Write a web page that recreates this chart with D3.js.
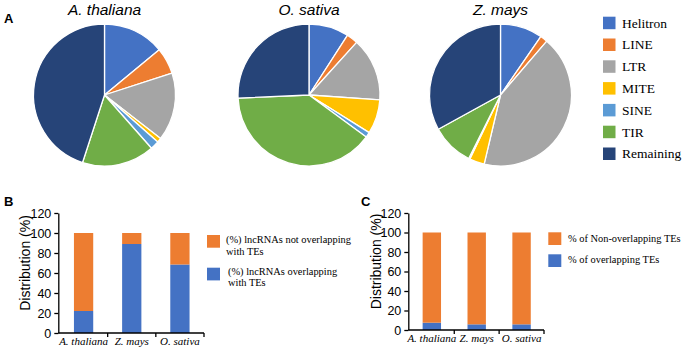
<!DOCTYPE html>
<html><head><meta charset="utf-8">
<script src="https://cdn.jsdelivr.net/npm/d3@7"></script>
<style>
html,body{margin:0;padding:0;background:#fff;}
svg{display:block;}
</style></head>
<body>
<svg id="chart" width="685" height="352"></svg>
<script>
// ---------- DATA ----------
const teTypes = ["Helitron","LINE","LTR","MITE","SINE","TIR","Remaining"];
const teColors = ["#4472C4","#ED7D31","#A5A5A5","#FFC000","#5B9BD5","#70AD47","#264478"];
const pieSpecies = ["A. thaliana","O. sativa","Z. mays"];
const athalianaTE = [14, 6, 15.5, 1, 2, 16.5, 45];
const osativaTE   = [9.1, 2.6, 14.4, 7.8, 1.2, 39.2, 25.7];
const zmaysTE     = [9.6, 1.7, 42.4, 3.4, 0.3, 9.6, 33];

const barSpecies = ["A. thaliana","Z. mays","O. sativa"];
const yTicks = [0,20,40,60,80,100,120];
// Panel B
const lncOverlap    = [22, 89, 68.5];
const lncNotOverlap = [78, 11, 31.5];
const bLegend = [["(%) lncRNAs not overlapping","with TEs"],["(%) lncRNAs overlapping","with TEs"]];
// Panel C
const teOverlap    = [7.5, 5.8, 5.8];
const teNotOverlap = [92.5, 94.2, 94.2];
const cLegend = ["% of Non-overlapping TEs","% of overlapping TEs"];

const blue = "#4472C4", orange = "#ED7D31";

const svg = d3.select("#chart");
const sans = "'Liberation Sans', Arial, sans-serif";
const serif = "'Liberation Serif', 'Times New Roman', serif";

// panel labels
[["A",4,23],["B",4,206],["C",361,206]].forEach(([t,x,y])=>{
  svg.append("text").attr("x",x).attr("y",y).text(t)
    .attr("font-family",sans).attr("font-weight","bold").attr("font-size",13);
});

// ---------- PIES ----------
const pieData = [athalianaTE, osativaTE, zmaysTE];
const pieCenters = [[104.5,95],[309,95],[500.5,95]];
const R = 71;
const pie = d3.pie().sort(null).value(d=>d);
const arc = d3.arc().innerRadius(0).outerRadius(R);
pieData.forEach((vals,i)=>{
  const g = svg.append("g").attr("transform",`translate(${pieCenters[i][0]},${pieCenters[i][1]})`);
  g.selectAll("path").data(pie(vals)).join("path")
    .attr("d",arc).attr("fill",(d,j)=>teColors[j])
    .attr("stroke","#fff").attr("stroke-width",1.3).attr("stroke-linejoin","round");
  svg.append("text").attr("x",pieCenters[i][0]).attr("y",15)
    .attr("text-anchor","middle").attr("font-family",sans).attr("font-style","italic")
    .attr("font-size",15.5).text(pieSpecies[i]);
});
// pie legend
const lg = svg.append("g");
teTypes.forEach((t,i)=>{
  const cy = 23 + i*21.8;
  lg.append("rect").attr("x",603).attr("y",cy-6.3).attr("width",12.5).attr("height",12.5).attr("fill",teColors[i]);
  lg.append("text").attr("x",622).attr("y",cy+4.5).attr("font-family",serif).attr("font-size",13.5).text(t);
});

// ---------- STACKED BARS ----------
function barPanel(opt){
  const y = d3.scaleLinear().domain([0,120]).range([opt.y0, opt.y1]);
  const x = d3.scaleBand().domain(barSpecies).range([opt.xb0, opt.xb1]).padding(0);
  const g = svg.append("g");
  const rows = barSpecies.map((s,i)=>({sp:s, over:opt.over[i], notover:opt.notover[i]}));
  const stack = d3.stack().keys(["over","notover"])(rows);
  const cols = {over:blue, notover:orange};
  const bw = x.bandwidth()*opt.bwFrac;
  stack.forEach(layer=>{
    g.selectAll(null).data(layer).join("rect")
      .attr("x",d=>x(d.data.sp)+x.bandwidth()/2-bw/2)
      .attr("width",bw)
      .attr("y",d=>y(d[1]))
      .attr("height",d=>y(d[0])-y(d[1]))
      .attr("fill",cols[layer.key]);
  });
  // y axis
  const ya = g.append("g").attr("transform",`translate(${opt.ax},0)`)
    .call(d3.axisLeft(y).tickValues(yTicks).tickSize(4).tickSizeOuter(0).tickPadding(3));
  ya.select(".domain").attr("stroke","#000").attr("stroke-width",1.3);
  ya.selectAll(".tick line").attr("stroke","#000").attr("stroke-width",1.3);
  ya.selectAll(".tick text").attr("font-family",sans).attr("font-size",12.5).attr("fill","#000");
  // x axis line + separators
  g.append("line").attr("x1",opt.ax).attr("x2",opt.xb1).attr("y1",opt.y0).attr("y2",opt.y0)
    .attr("stroke","#000").attr("stroke-width",1.3);
  barSpecies.forEach(s=>{
    const xe = x(s)+x.bandwidth();
    g.append("line").attr("x1",xe).attr("x2",xe).attr("y1",opt.y0).attr("y2",opt.y0+4)
      .attr("stroke","#000").attr("stroke-width",1.3);
    g.append("text").attr("x",x(s)+x.bandwidth()/2).attr("y",opt.xlab)
      .attr("text-anchor","middle").attr("font-family",serif).attr("font-style","italic")
      .attr("font-size",11).text(s);
  });
  // y label
  g.append("text").attr("transform",`translate(${opt.ylx},${(opt.y0+opt.y1)/2-10}) rotate(-90)`)
    .attr("text-anchor","middle").attr("font-family",sans).attr("font-size",14).text("Distribution (%)");
}
barPanel({y0:333,y1:213,xb0:59.5,xb1:204,ax:58.3,bwFrac:0.4,over:lncOverlap,notover:lncNotOverlap,xlab:345,ylx:30});
barPanel({y0:330,y1:213,xb0:409.4,xb1:544,ax:408.3,bwFrac:0.41,over:teOverlap,notover:teNotOverlap,xlab:342,ylx:381});

// legend B
[[orange,235,226,[243,254.5]],[blue,267.7,228,[274.5,285.5]]].forEach(([c,ry,tx,bl],i)=>{
  svg.append("rect").attr("x",207).attr("y",ry).attr("width",13).attr("height",12.7).attr("fill",c);
  bLegend[i].forEach((t,k)=>svg.append("text").attr("x",tx).attr("y",bl[k])
    .attr("font-family",serif).attr("font-size",10.4).text(t));
});
// legend C
[[orange,232.3,241.7],[blue,254.3,263]].forEach(([c,ry,bl],i)=>{
  svg.append("rect").attr("x",548.3).attr("y",ry).attr("width",13).attr("height",12.7).attr("fill",c);
  svg.append("text").attr("x",568).attr("y",bl).attr("font-family",serif).attr("font-size",10.4).text(cLegend[i]);
});
</script>
</body></html>
